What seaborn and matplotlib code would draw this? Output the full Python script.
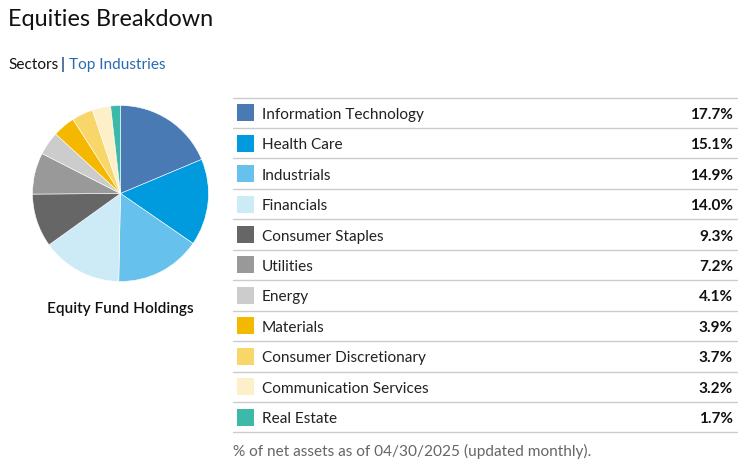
import matplotlib.pyplot as plt
import seaborn as sns
from matplotlib.patches import Rectangle

# Sector data
sectors = ['Information Technology', 'Health Care', 'Industrials', 'Financials',
           'Consumer Staples', 'Utilities', 'Energy', 'Materials',
           'Consumer Discretionary', 'Communication Services', 'Real Estate']
weights = [17.7, 15.1, 14.9, 14.0, 9.3, 7.2, 4.1, 3.9, 3.7, 3.2, 1.7]
colors = ['#4a7ab4', '#009bde', '#66c1ec', '#cdeaf7', '#666666', '#999999',
          '#cccccc', '#f4b800', '#f8d66a', '#fdf0c8', '#3cb9a8']

sns.set_style('white')
plt.rcParams['font.family'] = ['Lato', 'DejaVu Sans']

W, H = 754, 471
fs = 11.1
fig = plt.figure(figsize=(W / 100, H / 100), dpi=100)

# overlay axes in pixel coordinates for texts and table
ax = fig.add_axes([0, 0, 1, 1])
ax.set_xlim(0, W)
ax.set_ylim(H, 0)
ax.axis('off')

ax.text(8, 19, 'Equities Breakdown', fontsize=16.8, color='#111111', va='center', ha='left')
t1 = ax.text(8, 65, 'Sectors', fontsize=fs, color='#111111', va='center', ha='left')
fig.canvas.draw()
bb = t1.get_window_extent()
x_end = bb.x1
ax.text(x_end + 3, 65, '|', fontsize=fs, color='#1f4e8c', va='center', ha='left', fontweight='bold')
ax.text(x_end + 11, 65, 'Top Industries', fontsize=fs, color='#2a6ab0', va='center', ha='left')

ax.text(120.5, 309.5, 'Equity Fund Holdings', fontsize=fs, color='#111111',
        va='center', ha='center', fontweight='semibold')

# table rows
row0, step = 97.5, 30.45
for i in range(len(sectors) + 1):
    ax.plot([233, 737], [row0 + i * step] * 2, color='#cccccc', lw=1.0)
for i, (name, w, c) in enumerate(zip(sectors, weights, colors)):
    yc = row0 + (i + 0.5) * step
    ax.add_patch(Rectangle((237, yc - 8.5), 17, 17, color=c, lw=0))
    ax.text(262, yc + 2, name, fontsize=fs, color='#222222', va='center', ha='left')
    ax.text(733, yc + 2, f'{w:.1f}%', fontsize=fs, color='#111111', va='center',
            ha='right', fontweight='bold')

ax.text(233, 451.5, '% of net assets as of 04/30/2025 (updated monthly).',
        fontsize=fs, color='#666666', va='center', ha='left')

# pie
cx, cy, r = 120.5, 193.5, 88
pax = fig.add_axes([(cx - r) / W, (H - cy - r) / H, 2 * r / W, 2 * r / H])
pax.pie(weights, colors=colors, startangle=90, counterclock=False,
        wedgeprops={'linewidth': 0.4, 'edgecolor': 'white'})
pax.set_xlim(-1, 1)
pax.set_ylim(-1, 1)
pax.set_aspect('equal')

fig.savefig('out.png', dpi=100)
